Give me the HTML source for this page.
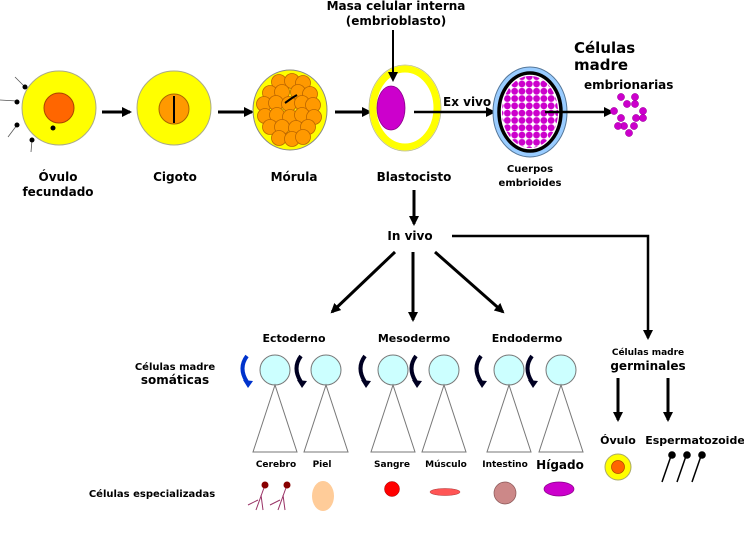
<!DOCTYPE html>
<html><head><meta charset="utf-8"><style>
html,body{margin:0;padding:0;background:#fff}
svg{display:block}
text{font-family:"DejaVu Sans","Liberation Sans",sans-serif;font-weight:bold;fill:#000}
</style></head><body>
<svg width="744" height="539" viewBox="0 0 744 539" xmlns="http://www.w3.org/2000/svg">
<defs>
<marker id="ah" markerWidth="10" markerHeight="10" refX="8" refY="5" orient="auto" markerUnits="userSpaceOnUse">
<path d="M0,0 L10,5 L0,10 z" fill="#000"/></marker>
<pattern id="dots" x="0" y="0" width="7.3" height="7.3" patternUnits="userSpaceOnUse">
<circle cx="3.65" cy="3.65" r="3.4" fill="#c0c"/></pattern>
</defs>
<!-- Ovulo fecundado -->
<g stroke="#555" stroke-width="0.8">
<line x1="15" y1="77" x2="25" y2="87"/><line x1="0" y1="100" x2="17" y2="101"/>
<line x1="8" y1="137" x2="17" y2="125"/><line x1="31" y1="152" x2="32" y2="140"/>
<line x1="45" y1="137" x2="53" y2="128"/>
</g>
<circle cx="59" cy="108" r="37" fill="#ff0" stroke="#aa8" stroke-width="1"/>
<circle cx="59" cy="108" r="15" fill="#f60" stroke="#a40" stroke-width="1"/>
<g fill="#000"><circle cx="25" cy="87" r="2.5"/><circle cx="17" cy="102" r="2.5"/><circle cx="17" cy="125" r="2.5"/><circle cx="32" cy="140" r="2.5"/><circle cx="53" cy="128" r="2.5"/></g>
<text x="58" y="181" font-size="12" text-anchor="middle">Óvulo</text>
<text x="58" y="196" font-size="12" text-anchor="middle">fecundado</text>
<line x1="102" y1="112" x2="130" y2="112" stroke="#000" stroke-width="3" marker-end="url(#ah)"/>
<!-- Cigoto -->
<circle cx="174" cy="108" r="37" fill="#ff0" stroke="#aa8" stroke-width="1"/>
<circle cx="174" cy="109" r="15" fill="#f90" stroke="#a60" stroke-width="1"/>
<line x1="174" y1="96" x2="174" y2="123" stroke="#000" stroke-width="2"/>
<text x="175" y="181" font-size="12" text-anchor="middle">Cigoto</text>
<line x1="218" y1="112" x2="252" y2="112" stroke="#000" stroke-width="3" marker-end="url(#ah)"/>
<!-- Morula -->
<ellipse cx="290" cy="110" rx="37" ry="40" fill="#ff0" stroke="#888" stroke-width="1"/>
<g fill="#f90" stroke="#b60" stroke-width="0.8">
<circle cx="279" cy="82" r="7.5"/><circle cx="292" cy="81" r="7.5"/><circle cx="303" cy="83" r="7.5"/>
<circle cx="270" cy="93" r="7.5"/><circle cx="282" cy="92" r="7.5"/><circle cx="298" cy="92" r="7.5"/><circle cx="310" cy="94" r="7.5"/>
<circle cx="264" cy="104" r="7.5"/><circle cx="276" cy="103" r="7.5"/><circle cx="289" cy="104" r="7.5"/><circle cx="302" cy="103" r="7.5"/><circle cx="313" cy="105" r="7.5"/>
<circle cx="265" cy="116" r="7.5"/><circle cx="277" cy="115" r="7.5"/><circle cx="290" cy="117" r="7.5"/><circle cx="302" cy="115" r="7.5"/><circle cx="314" cy="117" r="7.5"/>
<circle cx="270" cy="127" r="7.5"/><circle cx="282" cy="127" r="7.5"/><circle cx="296" cy="128" r="7.5"/><circle cx="308" cy="127" r="7.5"/>
<circle cx="279" cy="138" r="7.5"/><circle cx="292" cy="139" r="7.5"/><circle cx="303" cy="137" r="7.5"/>
</g>
<path d="M285 103 L292 98 L297 95" stroke="#000" stroke-width="2" fill="none"/>
<text x="294" y="181" font-size="12" text-anchor="middle">Mórula</text>
<line x1="335" y1="112" x2="370" y2="112" stroke="#000" stroke-width="3" marker-end="url(#ah)"/>
<!-- Blastocisto -->
<ellipse cx="405" cy="108" rx="32" ry="39" fill="#fff" stroke="#ff0" stroke-width="7"/>
<ellipse cx="405" cy="108" rx="36" ry="43" fill="none" stroke="#bb8" stroke-width="0.8"/>
<ellipse cx="391" cy="108" rx="14" ry="22" fill="#c0c" stroke="#808" stroke-width="0.8"/>
<text x="396" y="10" font-size="12" text-anchor="middle">Masa celular interna</text>
<text x="396" y="25" font-size="12" text-anchor="middle">(embrioblasto)</text>
<line x1="393" y1="30" x2="393" y2="80" stroke="#000" stroke-width="2" marker-end="url(#ah)"/>
<text x="414" y="181" font-size="12" text-anchor="middle">Blastocisto</text>
<line x1="414" y1="112" x2="494" y2="112" stroke="#000" stroke-width="2.5" marker-end="url(#ah)"/>
<text x="443" y="106" font-size="12">Ex vivo</text>
<!-- Cuerpos embrioides -->
<ellipse cx="530" cy="112" rx="37" ry="45" fill="#9cf" stroke="#579" stroke-width="1"/>
<ellipse cx="530" cy="112" rx="31" ry="39" fill="#fff" stroke="#000" stroke-width="3.5"/>
<ellipse cx="530" cy="112" rx="28" ry="36" fill="url(#dots)"/>
<line x1="545" y1="112" x2="612" y2="112" stroke="#000" stroke-width="2.5" marker-end="url(#ah)"/>
<text x="530" y="172" font-size="10" text-anchor="middle">Cuerpos</text>
<text x="530" y="186" font-size="10" text-anchor="middle">embrioides</text>
<text x="574" y="53" font-size="15">Células</text>
<text x="574" y="70" font-size="15">madre</text>
<text x="584" y="89" font-size="12">embrionarias</text>
<g fill="#c0c" stroke="#909" stroke-width="0.5">
<circle cx="621" cy="97" r="3.6"/><circle cx="635" cy="97" r="3.6"/><circle cx="627" cy="104" r="3.6"/><circle cx="635" cy="104" r="3.6"/>
<circle cx="614" cy="111" r="3.6"/><circle cx="643" cy="111" r="3.6"/><circle cx="621" cy="118" r="3.6"/><circle cx="636" cy="118" r="3.6"/>
<circle cx="643" cy="118" r="3.6"/><circle cx="624" cy="126" r="3.6"/><circle cx="634" cy="126" r="3.6"/><circle cx="629" cy="133" r="3.6"/><circle cx="618" cy="126" r="3.6"/>
</g>
<!-- In vivo -->
<line x1="414" y1="190" x2="414" y2="224" stroke="#000" stroke-width="3" marker-end="url(#ah)"/>
<text x="410" y="240" font-size="12" text-anchor="middle">In vivo</text>
<polyline points="452,236 648,236 648,338" fill="none" stroke="#000" stroke-width="2.5" marker-end="url(#ah)"/>
<line x1="395" y1="252" x2="332" y2="312" stroke="#000" stroke-width="3" marker-end="url(#ah)"/>
<line x1="413" y1="252" x2="413" y2="320" stroke="#000" stroke-width="3" marker-end="url(#ah)"/>
<line x1="435" y1="252" x2="503" y2="312" stroke="#000" stroke-width="3" marker-end="url(#ah)"/>
<text x="294" y="342" font-size="11" text-anchor="middle">Ectoderno</text>
<text x="414" y="342" font-size="11" text-anchor="middle">Mesodermo</text>
<text x="527" y="342" font-size="11" text-anchor="middle">Endodermo</text>
<text x="175" y="370" font-size="10" text-anchor="middle">Células madre</text>
<text x="175" y="384" font-size="12" text-anchor="middle">somáticas</text>
<text x="152" y="497" font-size="10" text-anchor="middle">Células especializadas</text>
<!-- curved arrows -->
<g stroke-width="4" fill="none">
<path d="M247 356 Q238 368 247 382" stroke="#03c"/>
<path d="M301 356 Q292 368 301 382" stroke="#002"/>
<path d="M365 356 Q356 368 365 382" stroke="#002"/>
<path d="M416 356 Q407 368 416 382" stroke="#002"/>
<path d="M481 356 Q472 368 481 382" stroke="#002"/>
<path d="M532 356 Q523 368 532 382" stroke="#002"/>
</g>
<g>
<path d="M243 380 L253 381 L248 388 z" fill="#03c"/>
<path d="M297 380 L307 381 L302 388 z" fill="#002"/>
<path d="M361 380 L371 381 L366 388 z" fill="#002"/>
<path d="M412 380 L422 381 L417 388 z" fill="#002"/>
<path d="M477 380 L487 381 L482 388 z" fill="#002"/>
<path d="M528 380 L538 381 L533 388 z" fill="#002"/>
</g>
<g fill="#cff" stroke="#777" stroke-width="1">
<circle cx="275" cy="370" r="15"/><circle cx="326" cy="370" r="15"/><circle cx="393" cy="370" r="15"/><circle cx="444" cy="370" r="15"/><circle cx="509" cy="370" r="15"/><circle cx="561" cy="370" r="15"/>
</g>
<g fill="#fff" stroke="#777" stroke-width="1">
<path d="M275 385 L253 452 L297 452 z"/><path d="M326 385 L304 452 L348 452 z"/>
<path d="M393 385 L371 452 L415 452 z"/><path d="M444 385 L422 452 L466 452 z"/>
<path d="M509 385 L487 452 L531 452 z"/><path d="M561 385 L539 452 L583 452 z"/>
</g>
<g font-size="9" text-anchor="middle">
<text x="276" y="467">Cerebro</text><text x="322" y="467">Piel</text><text x="392" y="467">Sangre</text>
<text x="446" y="467">Músculo</text><text x="505" y="467">Intestino</text>
</g>
<text x="560" y="469" font-size="12" text-anchor="middle">Hígado</text>
<!-- specialized cells -->
<g stroke="#936" stroke-width="1" fill="none">
<path d="M265 485 L256 510 M258 500 L248 505 M261 495 L263 510"/>
<path d="M287 485 L278 510 M280 500 L270 505 M283 495 L285 510"/>
</g>
<circle cx="265" cy="485" r="3.5" fill="#800"/><circle cx="287" cy="485" r="3.5" fill="#800"/>
<ellipse cx="323" cy="496" rx="11" ry="15" fill="#fc9"/>
<circle cx="392" cy="489" r="7.5" fill="#f00" stroke="#900" stroke-width="0.5"/>
<ellipse cx="445" cy="492" rx="15" ry="3.5" fill="#f55" stroke="#a33" stroke-width="0.5"/>
<circle cx="505" cy="493" r="11" fill="#c88" stroke="#855" stroke-width="0.7"/>
<ellipse cx="559" cy="489" rx="15" ry="7" fill="#c0c" stroke="#808" stroke-width="0.7"/>
<!-- germinales -->
<text x="648" y="355" font-size="9" text-anchor="middle">Células madre</text>
<text x="648" y="370" font-size="12" text-anchor="middle">germinales</text>
<line x1="618" y1="378" x2="618" y2="420" stroke="#000" stroke-width="3" marker-end="url(#ah)"/>
<line x1="668" y1="378" x2="668" y2="420" stroke="#000" stroke-width="3" marker-end="url(#ah)"/>
<text x="618" y="444" font-size="11" text-anchor="middle">Óvulo</text>
<text x="695" y="444" font-size="11" text-anchor="middle">Espermatozoide</text>
<circle cx="618" cy="467" r="13" fill="#ff0" stroke="#aa6" stroke-width="1"/>
<circle cx="618" cy="467" r="6.5" fill="#f60" stroke="#a40" stroke-width="0.7"/>
<g stroke="#000" stroke-width="1.5">
<line x1="671" y1="456" x2="662" y2="482"/><line x1="686" y1="456" x2="677" y2="482"/><line x1="701" y1="456" x2="692" y2="482"/>
</g>
<g fill="#000"><circle cx="672" cy="455" r="3.8"/><circle cx="687" cy="455" r="3.8"/><circle cx="702" cy="455" r="3.8"/></g>
</svg>
</body></html>
